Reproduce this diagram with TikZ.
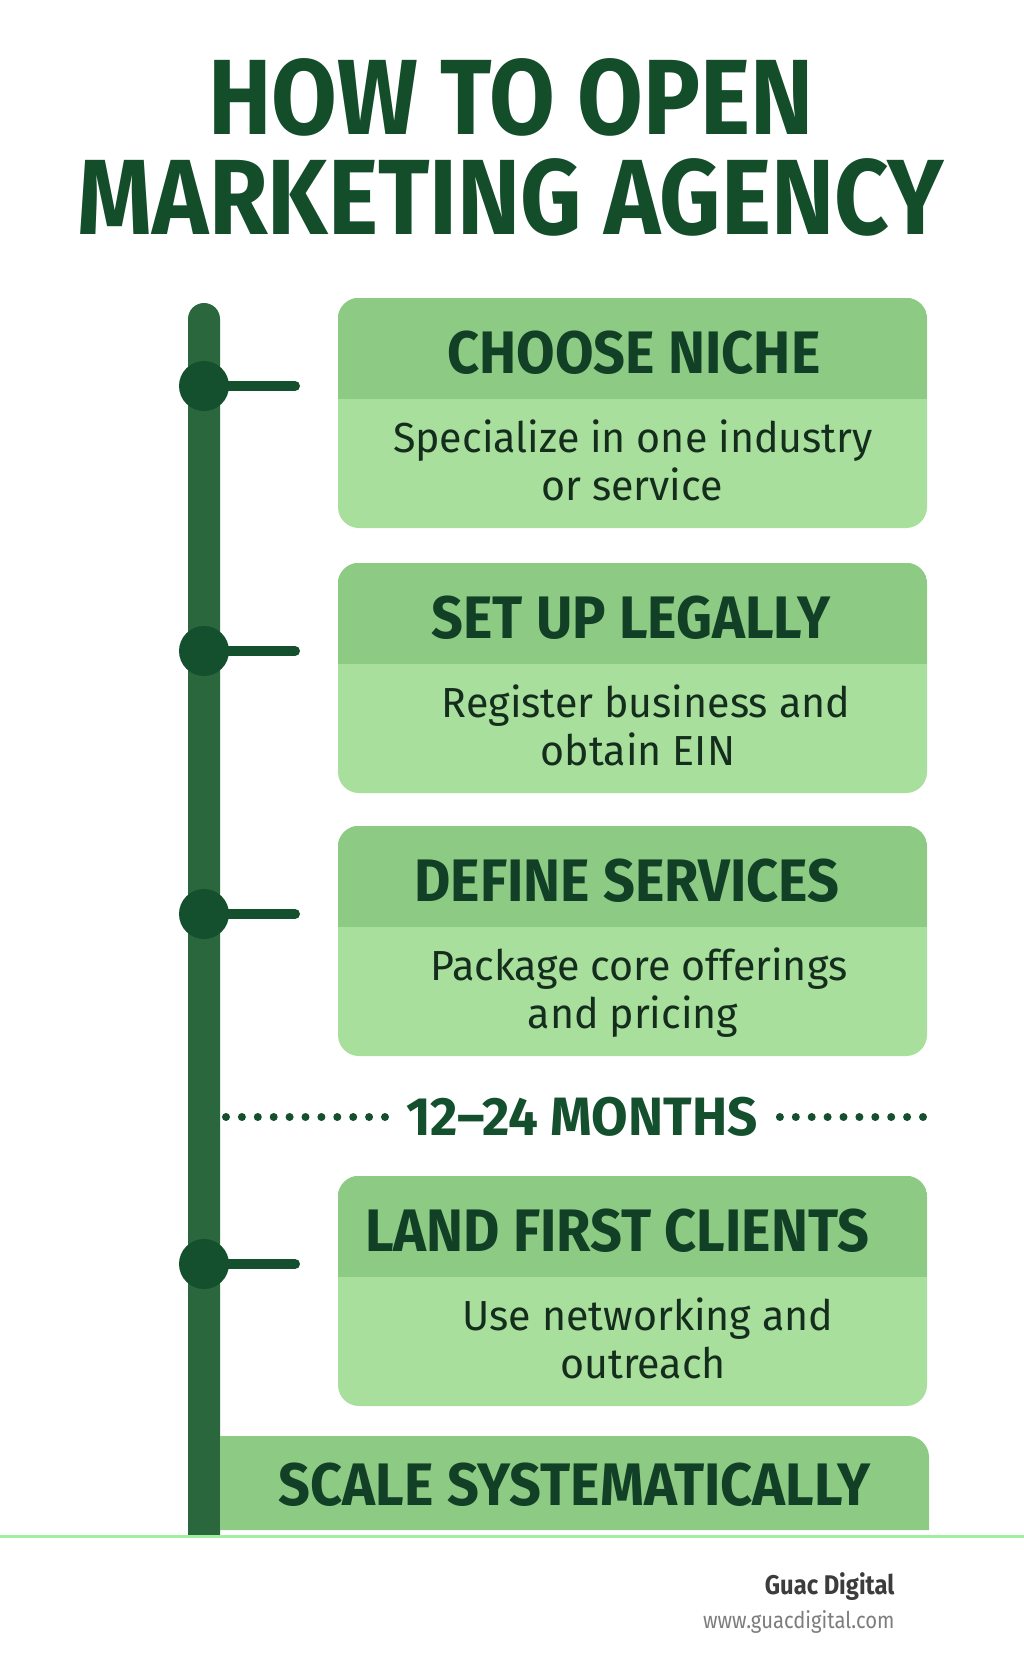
\documentclass[tikz,border=0pt]{standalone}
\usepackage{fontspec}
\usepackage{xcolor}
\usepackage{tikz}
\usetikzlibrary{positioning}

\setsansfont{Fira Sans}
\newfontfamily\titlefont{Fira Sans}[FakeStretch=0.89]
\newfontfamily\headfont{Fira Sans}[FakeStretch=0.93]
\newfontfamily\bodyfont{Fira Sans}[FakeStretch=0.98]
\newfontfamily\monthfont{Fira Sans}[FakeStretch=0.98]
\newfontfamily\footfont{Fira Sans}[FakeStretch=0.88]

\definecolor{titlegreen}{RGB}{19,77,42}
\definecolor{headfill}{RGB}{141,203,132}
\definecolor{bodyfill}{RGB}{168,223,156}
\definecolor{barcol}{RGB}{42,103,60}
\definecolor{dotcol}{RGB}{20,80,45}
\definecolor{headtext}{RGB}{18,64,38}
\definecolor{bodytext}{RGB}{20,45,28}
\definecolor{basecol}{RGB}{160,240,160}
\definecolor{footdark}{RGB}{60,60,60}
\definecolor{footgrey}{RGB}{125,125,125}

\tikzset{
  title/.style={text=titlegreen, font=\titlefont\bfseries\fontsize{107}{107}\selectfont},
  card/.style={fill=bodyfill, rounded corners=21, minimum width=589, minimum height=230, inner sep=0},
  headtxt/.style={text=headtext, font=\headfont\bfseries\fontsize{60}{60}\selectfont},
  bodytxt/.style={text=bodytext, anchor=base, font=\bodyfont\fontsize{42}{42}\selectfont},
  tlinedot/.style={circle, fill=dotcol, minimum size=50, inner sep=0},
  arm/.style={dotcol, line width=10, line cap=round},
  dotrow/.style={dotcol, line width=8, line cap=round, dash pattern=on 0pt off 15.9pt},
}

\begin{document}
\begin{tikzpicture}[x=1pt,y=-1pt]
\useasboundingbox (0,0) rectangle (1024,1666);
\fill[white] (0,0) rectangle (1024,1666);

% title
\node[title] (title1) at (511,97) {HOW TO OPEN};
\node[title] (title2) at (511,197) {MARKETING AGENCY};

% timeline bar
\fill[barcol] (188,1535) [rounded corners=16] -- (188,303) -- (220,303) [sharp corners] -- (220,1535) -- cycle;

% step cards
\foreach \n/\top/\hx/\ax/\bx/\head/\linea/\lineb in {
  1/298/634/633/632/CHOOSE NICHE/Specialize in one industry/or service,
  2/563/631/646/638/SET UP LEGALLY/Register business and/obtain EIN,
  3/826/627/639/633/DEFINE SERVICES/Package core offerings/and pricing,
  4/1176/617/648/643/LAND FIRST CLIENTS/Use networking and/outreach}{
  \node[card] (card\n) at (632.5,{\top+115}) {};
  \begin{scope}
    \clip[rounded corners=21] (card\n.north west) rectangle (card\n.south east);
    \fill[headfill] (card\n.north west) rectangle ([yshift=-101pt]card\n.north east);
  \end{scope}
  \node[headtxt] (head\n) at (\hx,{\top+55}) {\head};
  \node[bodytxt] (txt\n a) at (\ax,{\top+154}) {\linea};
  \node[bodytxt] (txt\n b) at (\bx,{\top+202}) {\lineb};
  \node[tlinedot] (dot\n) at (204,{\top+88}) {};
  \coordinate (armend\n) at (295,{\top+88});
  \draw[arm] (dot\n.center) -- (armend\n);
}

% duration
\node[text=dotcol, inner sep=0, font=\monthfont\bfseries\fontsize{54}{54}\selectfont] (months) at (582,1117) {12–24 MONTHS};
\coordinate (dotsL) at (226,1117);
\coordinate (dotsR) at (923,1117);
\draw[dotrow] (dotsL) -- ([xshift=-20pt]months.west);
\draw[dotrow] (dotsR) -- ([xshift=22pt]months.east);

% last step
\fill[headfill] (220,1530) -- (220,1436) [rounded corners=21] -- (929,1436) [sharp corners] -- (929,1530) -- cycle;
\node[headtxt] (scale) at (575,1485) {SCALE SYSTEMATICALLY};

% base line and footer
\draw[basecol, line width=3] (0,1536) -- (1024,1536);
\node[anchor=base east, text=footdark, font=\footfont\bfseries\fontsize{27}{27}\selectfont] (brand) at (898,1594) {Guac Digital};
\node[anchor=base east, text=footgrey, font=\footfont\fontsize{23}{23}\selectfont] (site) at (898,1628) {www.guacdigital.com};
\end{tikzpicture}
\end{document}
